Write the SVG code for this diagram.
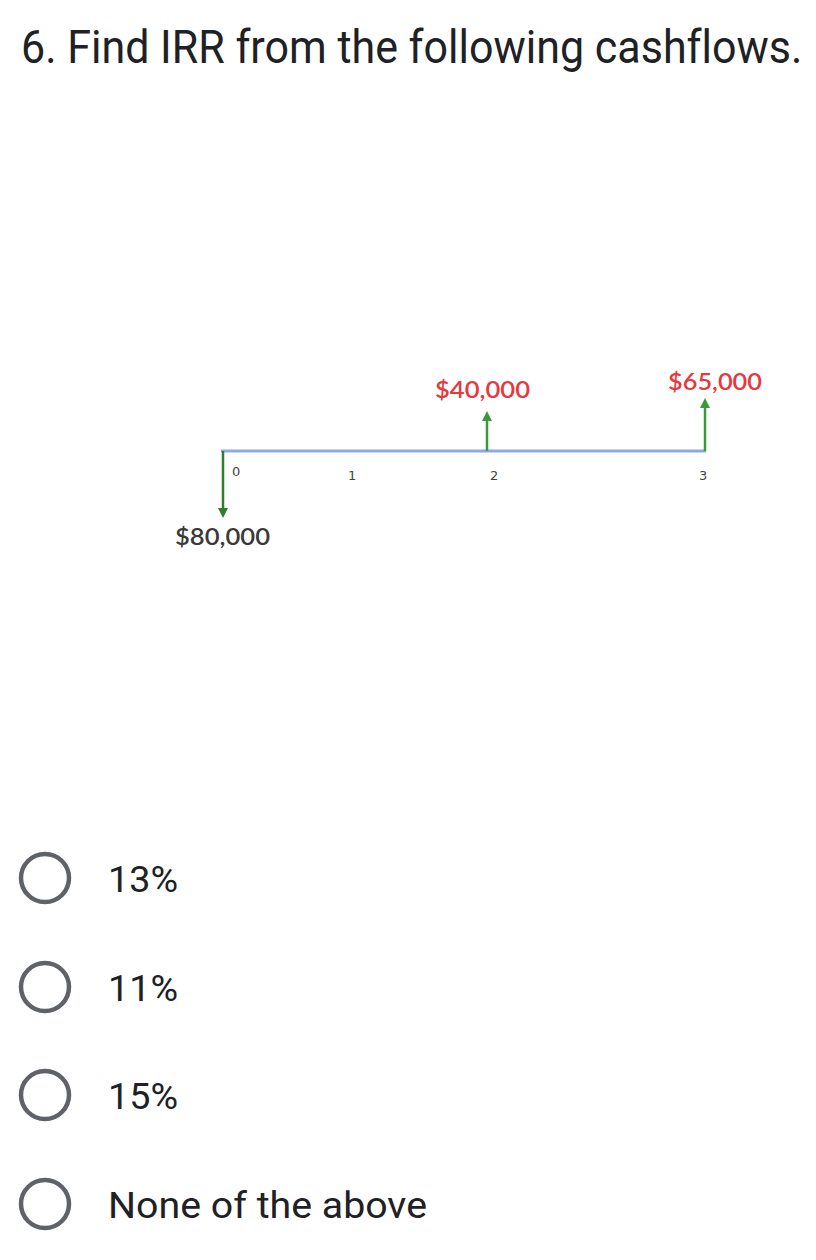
<svg xmlns="http://www.w3.org/2000/svg" width="816" height="1260" viewBox="0 0 816 1260">
<defs>
<style>
.title{font-family:Roboto,"Liberation Sans",sans-serif;font-size:46px;fill:#202124;font-variant-ligatures:none}
.opt{font-family:Roboto,"Liberation Sans",sans-serif;font-size:36px;fill:#202124}
.radio{fill:none;stroke:#5f6368;stroke-width:4.5}
.amt{font-family:Lato,"Open Sans",sans-serif;font-size:22px;font-weight:600}
.red{fill:#e8383d}
.dark{fill:#3a3a3a}
.tick{font-family:"DejaVu Sans",sans-serif;font-size:13px;fill:#444}
.flow{stroke:#3a9a3a;stroke-width:2.5;fill:none}
</style>
<marker id="ah" viewBox="0 0 10 10" refX="5" refY="5" markerWidth="4" markerHeight="4" orient="auto-start-reverse">
<path d="M0,0 L10,5 L0,10 z" fill="#3a9a3a"/>
</marker>
<marker id="ahd" viewBox="0 0 10 10" refX="5" refY="5" markerWidth="4" markerHeight="4" orient="auto-start-reverse">
<path d="M0,0 L10,5 L0,10 z" fill="#2e7d32"/>
</marker>
</defs>
<rect width="816" height="1260" fill="#ffffff"/>
<g id="title" transform="translate(21,63) scale(0.935,1)">
<text class="title" x="0" y="0">6. Find IRR from the following cashflows.</text>
</g>
<g id="timeline">
<line x1="221" y1="451" x2="706" y2="451" stroke="#8faadc" stroke-width="3"/>
<text class="tick" x="232" y="476">0</text>
<text class="tick" x="348" y="480">1</text>
<text class="tick" x="490" y="480">2</text>
<text class="tick" x="699" y="480">3</text>
</g>
<g id="connectors">
<line x1="223" y1="451" x2="223" y2="513" stroke="#2e7d32" stroke-width="2.5" marker-end="url(#ahd)"/>
<line class="flow" x1="487" y1="451" x2="487" y2="416" marker-end="url(#ah)"/>
<line class="flow" x1="705" y1="451" x2="705" y2="403" marker-end="url(#ah)"/>
</g>
<g id="cf0"><text class="amt dark" x="175" y="545" textLength="95" lengthAdjust="spacingAndGlyphs">$80,000</text></g>
<g id="cf2"><text class="amt red" x="435" y="398" textLength="95" lengthAdjust="spacingAndGlyphs">$40,000</text></g>
<g id="cf3"><text class="amt red" x="668" y="390" textLength="94" lengthAdjust="spacingAndGlyphs">$65,000</text></g>
<g id="opt1"><circle class="radio" cx="45" cy="878" r="24"/><text class="opt" x="108" y="892" textLength="70" lengthAdjust="spacingAndGlyphs">13%</text></g>
<g id="opt2"><circle class="radio" cx="45" cy="987" r="24"/><text class="opt" x="108" y="1001" textLength="70" lengthAdjust="spacingAndGlyphs">11%</text></g>
<g id="opt3"><circle class="radio" cx="45" cy="1095" r="24"/><text class="opt" x="108" y="1109" textLength="70" lengthAdjust="spacingAndGlyphs">15%</text></g>
<g id="opt4"><circle class="radio" cx="45" cy="1204" r="24"/><text class="opt" x="108" y="1218" textLength="319" lengthAdjust="spacingAndGlyphs">None of the above</text></g>
</svg>
